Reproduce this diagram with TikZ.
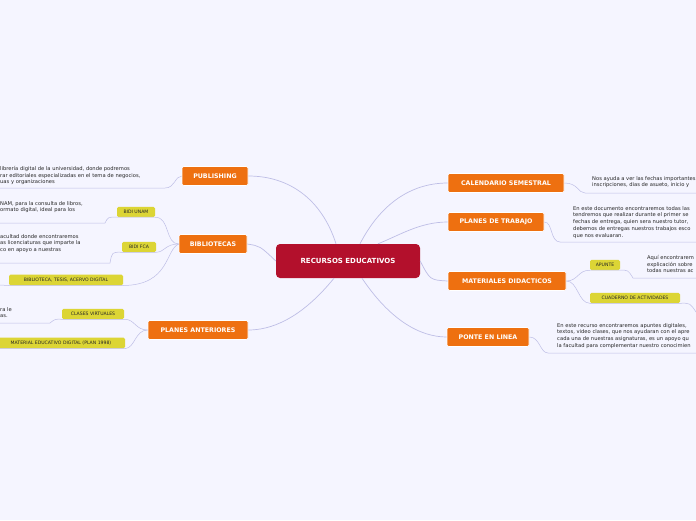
\documentclass[tikz,border=0pt]{standalone}
\usepackage{fontspec}
\setmainfont{DejaVu Sans}
\definecolor{orng}{HTML}{EE7010}
\definecolor{yl}{HTML}{DCD535}
\definecolor{crim}{HTML}{B3102C}
\begin{document}
\begin{tikzpicture}[x=1pt,y=-1pt,
 org/.style={fill=orng,text=white,font=\bfseries\fontsize{6.3}{7}\selectfont,rounded corners=1.5pt,minimum height=19pt,inner xsep=0pt,draw=white,line width=0.6pt},
 yel/.style={fill=yl,text=black!85,font=\fontsize{4.6}{5}\selectfont,rounded corners=1.5pt,minimum height=10pt,inner xsep=0pt},
 txt/.style={font=\fontsize{5.2}{6.8}\selectfont,text=black!85,align=left,inner sep=0pt},
 con/.style={draw=gray!55!blue!35,line width=0.7pt}]
\fill[blue!4!white] (0,0) rectangle (696,520);
\clip (0,0) rectangle (696,520);
\useasboundingbox (0,0) rectangle (696,520);
% main
\node[fill=crim,text=white,font=\bfseries\fontsize{7}{8}\selectfont,rounded corners=4pt,minimum width=144pt,minimum height=34pt] (m) at (348,261) {RECURSOS EDUCATIVOS};
% orange
\node[org,minimum width=66pt] (pub) at (215,176) {PUBLISHING};
\node[org,minimum width=68pt] (bib) at (213,244) {BIBLIOTECAS};
\node[org,minimum width=100pt] (pla) at (198,330) {PLANES ANTERIORES};
\node[org,minimum width=116pt] (cal) at (506,183) {CALENDARIO SEMESTRAL};
\node[org,minimum width=96pt] (pdt) at (496,222) {PLANES DE TRABAJO};
\node[org,minimum width=118pt] (mat) at (507,281) {MATERIALES DIDACTICOS};
\node[org,minimum width=82pt] (pon) at (488,337) {PONTE EN LINEA};
% yellow
\node[yel,minimum width=38pt] (bu) at (136,212) {BIDI UNAM};
\node[yel,minimum width=34pt] (bf) at (139,247) {BIDI FCA};
\node[yel,minimum width=114pt] (bt) at (66,280) {BIBLIOTECA, TESIS, ACERVO DIGITAL};
\node[yel,minimum width=62pt] (cv) at (93,314) {CLASES VIRTUALES};
\node[yel,minimum width=128pt] (me) at (61,343) {MATERIAL EDUCATIVO DIGITAL (PLAN 1998)};
\node[yel,minimum width=30pt] (ap) at (605,265) {APUNTE};
\node[yel,minimum width=90pt] (cu) at (635,298) {CUADERNO DE ACTIVIDADES};
% texts
\node[txt,anchor=north west] (tpub) at (0,166) {librería digital de la universidad, donde podremos\\rar editoriales especializadas en el tema  de negocios,\\uas y organizaciones};
\node[txt,anchor=north west] (tbu) at (0,201) {NAM, para la consulta de libros,\\ormato digital, ideal para los};
\node[txt,anchor=north west] (tbf) at (0,234) {acultad donde encontraremos\\as licenciaturas que imparte la\\co en apoyo a nuestras};
\node[txt,anchor=north west] (tcv) at (0,307) {ra le\\as.};
\node[txt,anchor=north west] (tcal) at (592,176) {Nos ayuda a ver las fechas importantes\\inscripciones, dias de asueto, inicio y};
\node[txt,anchor=north west] (tpdt) at (573,206) {En este documento encontraremos todas las\\tendremos que realizar durante el primer se\\fechas de entrega, quien sera nuestro tutor,\\debemos de entregas nuestros trabajos esco\\que nos evaluaran.};
\node[txt,anchor=north west] (tap) at (647,255) {Aquí encontrarem\\explicación sobre\\todas nuestras ac};
\node[txt,anchor=north west] (tpon) at (557,323) {En este recurso encontraremos apuntes digitales,\\textos, video clases, que nos ayudaran con el apre\\cada una de nuestras asignaturas, es un apoyo qu\\la facultad para complementar nuestro conocimien};
% underline coordinates
\coordinate (upub) at (165,188); \coordinate (upub0) at (0,188);
\coordinate (ubu) at (105,223); \coordinate (ubu0) at (0,223);
\coordinate (ubf) at (110,263); \coordinate (ubf0) at (0,263);
\coordinate (ucv) at (50,323); \coordinate (ucv0) at (0,323);
\coordinate (ucal) at (585,193); \coordinate (ucal1) at (696,193);
\coordinate (updt) at (560,242); \coordinate (updt1) at (696,242);
\coordinate (uap) at (633,278); \coordinate (uap1) at (696,278);
\coordinate (ucu1) at (696,312);
\coordinate (upon) at (548,353); \coordinate (upon1) at (696,353);
% main connectors
\path[con] (m.north) ++(-12,0) coordinate (a1) (a1) .. controls (322,200) and (290,176) .. (pub.east);
\path[con] (m.west) .. controls (260,246) .. (bib.east);
\path[con] (m.south) ++(-14,0) coordinate (a2) (a2) .. controls (300,320) and (270,330) .. (pla.east);
\path[con] (m.north) ++(12,0) coordinate (a3) (a3) .. controls (380,205) and (410,183) .. (cal.west);
\path[con] (m.north) ++(30,0) coordinate (a4) (a4) .. controls (400,235) and (420,222) .. (pdt.west);
\path[con] (m.east) .. controls (430,280) .. (mat.west);
\path[con] (m.south) ++(14,0) coordinate (a5) (a5) .. controls (390,320) and (420,337) .. (pon.west);
% secondary
\path[con,line width=0.5pt] (pub.west) .. controls (175,176) and (175,188) .. (upub) -- (upub0);
\path[con,line width=0.5pt] (bib.west) .. controls (165,244) and (170,217) .. (bu.south east) -- (bu.south west) .. controls (108,217) .. (ubu) -- (ubu0);
\path[con,line width=0.5pt] (bib.west) .. controls (165,244) and (165,252) .. (bf.south east) -- (bf.south west) .. controls (112,252) .. (ubf) -- (ubf0);
\path[con,line width=0.5pt] (bib.west) .. controls (165,250) and (170,285) .. (bt.south east) -- (bt.south west) -- (0,285);
\path[con,line width=0.5pt] (pla.west) .. controls (135,330) and (135,319) .. (cv.south east) -- (cv.south west) .. controls (55,319) .. (ucv) -- (ucv0);
\path[con,line width=0.5pt] (pla.west) .. controls (135,330) and (135,348) .. (me.south east) -- (me.south west);
\path[con,line width=0.5pt] (cal.east) .. controls (578,183) and (578,193) .. (ucal) -- (ucal1);
\path[con,line width=0.5pt] (pdt.east) .. controls (553,222) and (550,242) .. (updt) -- (updt1);
\path[con,line width=0.5pt] (mat.east) .. controls (578,281) and (578,270) .. (ap.south west) -- (ap.south east) .. controls (628,270) .. (uap) -- (uap1);
\path[con,line width=0.5pt] (mat.east) .. controls (578,281) and (578,303) .. (cu.south west) -- (cu.south east) .. controls (690,303) .. (ucu1);
\path[con,line width=0.5pt] (pon.east) .. controls (540,337) and (540,353) .. (upon) -- (upon1);
\end{tikzpicture}
\end{document}
